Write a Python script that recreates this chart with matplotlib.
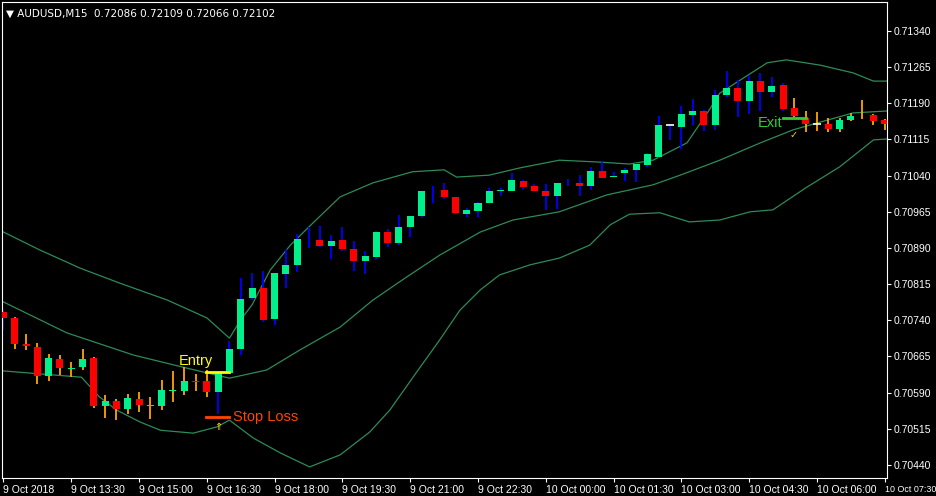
import matplotlib
matplotlib.use("Agg")
import matplotlib.pyplot as plt
from matplotlib.ticker import FuncFormatter

plt.rcParams['font.family'] = ['Liberation Sans', 'DejaVu Sans']

# prices in points (1 point = 0.00001)
opens  = [70757,70745,70691,70685,70624,70660,70640,70643,70662,70562,70573,70556,70577,70563,70562,70594,70593,70614,70614,70591,
          70631,70680,70786,70807,70743,70836,70855,70909,70907,70894,70907,70888,70863,70871,70923,70900,70933,70956,71006,71010,
          70996,70960,70967,70983,71009,71008,71029,71019,71008,70998,71026,71025,71019,71050,71038,71045,71052,71062,71079,71145,
          71141,71166,71174,71145,71207,71222,71195,71236,71213,71228,71180,71160,71147,71147,71137,71155,71165,71166,71155]
highs  = [70761,70747,70712,70693,70670,70668,70654,70680,70664,70585,70577,70587,70591,70581,70616,70635,70643,70629,70637,70633,
          70697,70828,70838,70842,70838,70888,70919,70933,70936,70917,70933,70904,70884,70925,70929,70958,70956,71008,71019,71025,
          70996,70973,70985,71014,71014,71045,71031,71023,71023,71025,71033,71041,71058,71068,71048,71056,71066,71087,71164,71145,
          71184,71199,71176,71218,71257,71238,71247,71253,71245,71232,71201,71174,71172,71160,71160,71170,71197,71168,71157]
lows   = [70720,70680,70678,70608,70614,70627,70622,70637,70558,70537,70533,70546,70550,70535,70554,70571,70585,70593,70581,70546,
          70631,70668,70782,70736,70730,70807,70840,70890,70892,70867,70884,70842,70836,70865,70892,70896,70913,70952,70983,70992,
          70960,70954,70954,70983,70998,71008,71010,71008,70969,70971,71019,70998,71010,71035,71037,71029,71027,71058,71077,71114,
          71095,71145,71133,71135,71203,71162,71168,71174,71203,71174,71162,71131,71133,71131,71131,71153,71157,71145,71135]
closes = [70745,70691,70687,70624,70662,70641,70641,70660,70562,70573,70556,70579,70564,70564,70595,70595,70614,70613,70591,70633,
          70680,70784,70807,70741,70838,70855,70909,70908,70894,70904,70888,70863,70873,70923,70900,70933,70956,71008,71007,70996,
          70963,70969,70983,71008,71010,71031,71016,71008,70998,71025,71027,71019,71050,71035,71039,71052,71064,71085,71145,71145,
          71168,71174,71145,71207,71222,71195,71236,71213,71226,71178,71164,71147,71147,71137,71155,71164,71166,71153,71147]
# wick colour regime per candle
wick_regime = ["up"] + ["flat"] * 18 + ["up"] * 51 + ["flat"] * 9

upper_x = [0,3.2,6.8,10.3,14.5,18,20,21,22,23.6,25.4,27.4,29.8,32.7,36.2,39,40.1,43,45.7,49.2,52.8,55.4,57.5,60.5,62.3,63.4,65.2,67.6,69.3,72.3,75.2,77,78.2]
upper_y = [70923,70886,70848,70817,70782,70745,70703,70741,70772,70844,70896,70942,70996,71025,71048,71052,71037,71041,71056,71072,71068,71064,71072,71108,71170,71211,71238,71274,71280,71269,71253,71236,71236]
mid_x = [0,5.6,11.5,16.2,20,23.3,26.2,29.8,32.7,35.7,38.6,42.2,45.1,49.2,53.4,57.5,59.9,63.4,67,69.9,72.9,75.2,78.2]
mid_y = [70778,70714,70668,70641,70620,70637,70678,70726,70782,70830,70875,70923,70948,70965,71000,71021,71041,71072,71108,71135,71155,71170,71174]
lower_x = [0,6.9,8.5,10,12.1,13.9,16.8,18.9,20,22.1,24.5,27.1,29.8,32.4,34.2,36.4,38.6,40.4,42.2,43.9,46.6,49.2,51.9,53.7,55.4,58.1,60.7,63.4,66.1,68.1,71.1,74,77,78.2]
lower_y = [70635,70622,70581,70554,70529,70512,70506,70519,70533,70496,70465,70436,70461,70508,70554,70627,70699,70761,70803,70834,70855,70869,70896,70938,70960,70963,70944,70948,70965,70969,71016,71058,71114,71116]

price_ticks = [71340,71265,71190,71115,71040,70965,70890,70815,70740,70665,70590,70515,70440]
time_labels = ["9 Oct 2018","9 Oct 13:30","9 Oct 15:00","9 Oct 16:30","9 Oct 18:00","9 Oct 19:30","9 Oct 21:00",
               "9 Oct 22:30","10 Oct 00:00","10 Oct 01:30","10 Oct 03:00","10 Oct 04:30","10 Oct 06:00","10 Oct 07:30"]
time_idx = [0,6,12,18,24,30,36,42,48,54,60,66,72,78]
entry_price, stop_price, exit_price = 70633, 70540, 71160
entry_idx, stop_idx, exit_idx = 18, 18, 69

GREEN, RED, BLUE, ORANGE, BAND = "#00F08C", "#FF0000", "#0000FF", "#FFA500", "#2E8B57"

fig = plt.figure(figsize=(9.36, 4.96), dpi=100, facecolor="black")
ax = fig.add_axes([2/936, 18/496, 885/936, 476/496], facecolor="black")

for i, (o, h, l, c) in enumerate(zip(opens, highs, lows, closes)):
    wc = BLUE if wick_regime[i] == "up" else ORANGE
    ax.vlines(i, l, h, color=wc, lw=1.3, zorder=2)
    if o == c:
        ax.hlines(c, i - 0.32, i + 0.32, color="white", lw=1.2, zorder=3)
    else:
        col = GREEN if c > o else RED
        ax.bar(i, abs(c - o), bottom=min(o, c), width=0.62, color=col, lw=0, zorder=3)

for xs, ys in ((upper_x, upper_y), (mid_x, mid_y), (lower_x, lower_y)):
    ax.plot(xs, ys, color=BAND, lw=0.9, zorder=1)

# annotations
ax.plot([entry_idx - 0.1, entry_idx + 2], [entry_price, entry_price], color="#FFFF00", lw=2, zorder=4)
ax.text(entry_idx - 2.5, entry_price + 14, "Entry", color="#FFFF00", fontsize=10.5, zorder=5)
ax.plot([entry_idx - 0.1, entry_idx + 2], [stop_price, stop_price], color="#FF4500", lw=2, zorder=4)
ax.text(entry_idx + 2.3, stop_price, "Stop Loss", color="#FF4500", fontsize=10.5, va="center", zorder=5)
ax.text(entry_idx + 1, stop_price - 22, "⇑", color="#FFD700", fontsize=7, ha="center", va="center",
        family="DejaVu Sans")
ax.plot([exit_idx, exit_idx + 2], [exit_price, exit_price], color="#32CD32", lw=2, zorder=4)
ax.text(exit_idx - 2.2, exit_price - 10, "Exit", color="#32CD32", fontsize=10.5, va="center", zorder=5)
ax.text(exit_idx + 0.9, exit_price - 35, "✓", color="#FFD700", fontsize=7, ha="center", va="center",
        family="DejaVu Sans")

ax.text(0.005, 0.985, "▼ AUDUSD,M15  0.72086 0.72109 0.72066 0.72102", transform=ax.transAxes,
        color="white", fontsize=7.5, va="top", ha="left", family=["DejaVu Sans"])

ax.set_xlim(-0.13, 78.2)
ax.set_ylim(70413, 71400)
ax.yaxis.tick_right()
ax.set_yticks(price_ticks)
ax.yaxis.set_major_formatter(FuncFormatter(lambda v, p: f"{v/100000:.5f}"))
ax.set_xticks(time_idx)
ax.set_xticklabels(time_labels, ha="left")
ax.tick_params(colors="white", labelsize=7.5, length=3, width=0.8, pad=2)
ax.get_xticklabels()[-1].set_fontsize(6.4)
for s in ax.spines.values():
    s.set_color("white")
    s.set_linewidth(0.8)

fig.savefig("out.png", dpi=100, facecolor="black")
